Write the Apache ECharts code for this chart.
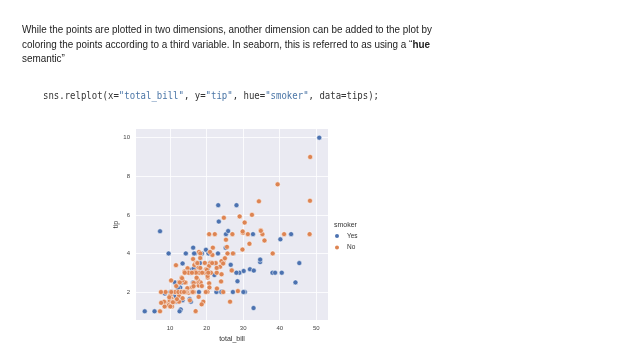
<!DOCTYPE html>
<html><head><meta charset="utf-8">
<script src="https://cdn.jsdelivr.net/npm/echarts@6/dist/echarts.min.js"></script>
<style>
html,body{margin:0;padding:0;background:#fff;width:638px;height:359px;overflow:hidden;}
#chart{position:absolute;left:0;top:0;width:638px;height:359px;}
.txt{position:absolute;left:22px;font-family:"Liberation Sans",Arial,sans-serif;font-size:11px;color:#222;white-space:nowrap;transform-origin:0 0;line-height:13px;}
#code{position:absolute;left:43px;top:88.5px;font-family:"DejaVu Sans Mono",monospace;font-size:10.5px;color:#333;white-space:nowrap;transform-origin:0 0;}
#code .s{color:#4a75a6;}
</style></head>
<body>
<div id="chart"></div>
<div class="txt" id="l1" style="top:23px">While the points are plotted in two dimensions, another dimension can be added to the plot by</div>
<div class="txt" id="l2" style="top:37.5px">coloring the points according to a third variable. In seaborn, this is referred to as using a “<b>hue</b></div>
<div class="txt" id="l3" style="top:52px">semantic”</div>
<div id="code">sns.relplot(x=<span class="s">"total_bill"</span>, y=<span class="s">"tip"</span>, hue=<span class="s">"smoker"</span>, data=tips);</div>
<script>
// smoker = Yes
const yesBill = [38.01,11.24,20.29,13.81,11.02,18.29,3.07,15.01,26.86,25.28,17.92,19.44,32.68,28.97,5.75,16.32,40.17,27.28,12.03,21.01,11.35,15.38,44.30,22.42,15.36,20.49,25.21,14.31,16.00,17.51,10.59,10.63,50.81,15.81,7.25,31.85,16.82,32.90,17.89,14.48,9.60,34.63,34.65,23.33,45.35,23.17,40.55,20.90,30.46,18.15,23.10,15.69,19.81,28.44,15.48,16.58,10.34,43.11,13.00,13.51,18.71,12.74,13.00,16.40,20.53,16.47,26.59,38.73,24.27,12.76,30.06,25.89,13.27,28.17,12.90,28.15,11.59,7.74,30.14,12.16,13.42,8.58,13.42,16.27,10.09,22.12,24.01,15.69,15.53,12.60,32.83,27.18,22.67];
const yesTip  = [3.00,1.76,3.21,2.00,1.98,3.76,1.00,2.09,3.14,5.00,3.08,3.00,5.00,3.00,1.00,4.30,4.73,4.00,1.50,3.00,2.50,3.00,2.50,3.48,1.64,4.06,4.29,4.00,2.00,3.00,1.61,2.00,10.00,3.16,5.15,3.18,4.00,3.11,2.00,2.00,4.00,3.55,3.68,5.65,3.50,6.50,3.00,3.50,2.00,3.50,4.00,1.50,4.19,2.56,2.02,4.00,2.00,5.00,2.00,2.00,4.00,2.01,2.00,2.50,4.00,3.23,3.41,3.00,2.03,2.23,2.00,5.16,2.50,6.50,1.10,3.00,1.50,1.44,3.09,2.20,3.48,1.92,1.58,2.50,2.00,2.88,2.00,3.00,3.00,1.00,1.17,2.00,2.00];
// smoker = No
const noBill = [16.99,10.34,21.01,23.68,24.59,25.29,8.77,26.88,15.04,14.78,10.27,35.26,15.42,18.43,14.83,21.58,10.33,16.29,16.97,20.65,17.92,20.29,15.77,39.42,19.82,17.81,13.37,12.69,21.70,19.65,9.55,18.35,15.06,20.69,17.78,24.06,16.31,16.93,18.69,31.27,16.04,17.46,13.94,9.68,30.40,18.29,22.23,32.40,28.55,18.04,12.54,10.29,34.81,9.94,25.56,19.49,26.41,48.27,17.59,20.08,16.45,20.23,12.02,17.07,14.73,10.51,27.20,22.76,17.29,16.66,10.07,15.98,34.83,13.03,18.28,24.71,21.16,22.49,22.75,12.46,20.92,18.24,14.00,7.25,38.07,23.95,25.71,17.31,29.93,10.65,12.43,24.08,11.69,13.42,14.26,15.95,12.48,29.80,8.52,14.52,11.38,22.82,19.08,20.27,11.17,12.26,18.26,8.51,10.33,14.15,13.16,17.47,34.30,41.19,27.05,16.43,8.35,18.64,11.87,9.78,7.51,14.07,13.13,17.26,24.55,19.77,29.85,48.17,25.00,13.39,16.49,21.50,12.66,16.21,13.81,24.52,20.76,31.71,20.69,7.56,48.33,15.98,20.45,13.28,11.61,10.77,10.07,35.83,29.03,17.82,18.78];
const noTip  = [1.01,1.66,3.50,3.31,3.61,4.71,2.00,3.12,1.96,3.23,1.71,5.00,1.57,3.00,3.02,3.92,1.67,3.71,3.50,3.35,4.08,2.75,2.23,7.58,3.18,2.34,2.00,2.00,4.30,3.00,1.45,2.50,3.00,2.45,3.27,3.60,2.00,3.07,2.31,5.00,2.24,2.54,3.06,1.32,5.60,3.00,5.00,6.00,2.05,3.00,2.50,2.60,5.20,1.56,4.34,3.51,1.50,6.73,2.64,3.15,2.47,2.01,1.97,3.00,2.20,1.25,4.00,3.00,2.71,3.40,1.83,2.03,5.17,2.00,4.00,5.85,3.00,3.50,3.25,1.50,4.08,3.76,3.00,1.00,4.00,2.55,4.00,3.50,5.07,1.50,1.80,2.92,2.31,1.68,2.50,2.00,2.52,4.20,1.48,2.00,2.00,2.18,1.50,2.83,1.50,2.00,3.25,1.25,2.00,2.00,2.75,3.50,6.70,5.00,5.00,2.30,1.50,1.36,1.63,1.73,2.00,2.50,2.00,2.74,2.00,2.00,5.14,5.00,3.75,2.61,2.00,3.50,2.50,2.00,2.00,3.48,2.24,4.50,5.00,1.44,9.00,3.00,3.00,2.72,3.39,1.47,1.25,4.67,5.92,1.75,3.00];
const hueLevels = ['Yes', 'No'];

// fit slide text widths
function fit(id, target) {
  const el = document.getElementById(id);
  const w = el.getBoundingClientRect().width;
  const s = target / w;
  el.style.transform = 'scaleX(' + s + ')';
  return s;
}
const s1 = fit('l1', 410);
fit('l2', 408);
document.getElementById('l3').style.transform = 'scaleX(' + s1 + ')';
fit('code', 336);

const chart = echarts.init(document.getElementById('chart'), null, {renderer: 'canvas'});
const labelStyle = {fontSize: 6, color: '#444', fontFamily: 'Liberation Sans'};
const option = {
  animation: false,
  title: {
    text: 'smoker', left: 334, top: 222, padding: 0,
    textStyle: {fontSize: 7, fontWeight: 'normal', color: '#333', fontFamily: 'Liberation Sans'}
  },
  legend: {
    orient: 'vertical', left: 333, top: 232, padding: 0,
    itemWidth: 10, itemHeight: 6, itemGap: 3.5,
    data: hueLevels,
    textStyle: {fontSize: 6.5, color: '#333', fontFamily: 'Liberation Sans'}
  },
  grid: {left: 136, top: 129, width: 192, height: 191, show: true, backgroundColor: '#eaeaf2', borderWidth: 0},
  xAxis: {
    type: 'value', min: 0.68, max: 53.2, splitNumber: 5,
    name: 'total_bill', nameLocation: 'middle', nameGap: 14,
    nameTextStyle: {fontSize: 7, color: '#333', fontFamily: 'Liberation Sans'},
    axisLine: {show: false}, axisTick: {show: false},
    axisLabel: Object.assign({margin: 5, showMinLabel: false, showMaxLabel: false}, labelStyle),
    splitLine: {show: true, showMinLine: false, showMaxLine: false, lineStyle: {color: '#ffffff', width: 0.8}}
  },
  yAxis: {
    type: 'value', min: 0.55, max: 10.45, splitNumber: 5,
    name: 'tip', nameLocation: 'middle', nameGap: 16,
    nameTextStyle: {fontSize: 7, color: '#333', fontFamily: 'Liberation Sans'},
    axisLine: {show: false}, axisTick: {show: false},
    axisLabel: Object.assign({margin: 6, showMinLabel: false, showMaxLabel: false}, labelStyle),
    splitLine: {show: true, showMinLine: false, showMaxLine: false, lineStyle: {color: '#ffffff', width: 0.8}}
  },
  series: [
    {
      type: 'scatter', name: 'Yes',
      data: yesBill.map((b, i) => [b, yesTip[i]]),
      symbolSize: 5,
      itemStyle: {color: '#4c72b0', borderColor: '#ffffff', borderWidth: 0.5, opacity: 1}
    },
    {
      type: 'scatter', name: 'No',
      data: noBill.map((b, i) => [b, noTip[i]]),
      symbolSize: 5,
      itemStyle: {color: '#dd8452', borderColor: '#ffffff', borderWidth: 0.5, opacity: 1}
    }
  ]
};
chart.setOption(option);
</script>
</body></html>
